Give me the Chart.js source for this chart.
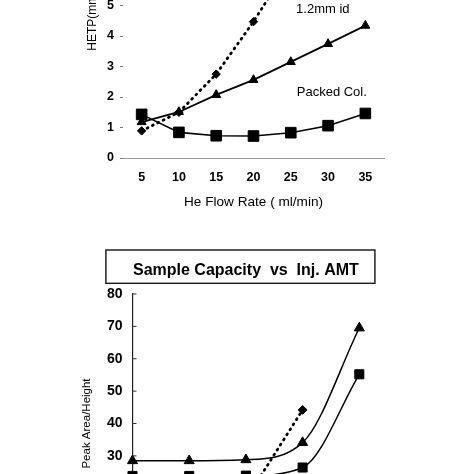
<!DOCTYPE html>
<html>
<head>
<meta charset="utf-8">
<script src="https://cdn.jsdelivr.net/npm/chart.js@4.4.1/dist/chart.umd.min.js"></script>
<style>
  html, body { margin: 0; padding: 0; background: #fff; overflow: hidden; width: 474px; height: 474px; }
  .wrap { position: absolute; left: 0; }
  #w1 { top: -130px; width: 474px; height: 344px; }
  #w2 { top: 240px; width: 474px; height: 353px; }
</style>
</head>
<body>
<div class="wrap" id="w1"><canvas id="c1" width="474" height="344"></canvas></div>
<div class="wrap" id="w2"><canvas id="c2" width="474" height="353"></canvas></div>
<script>
// ---------- Top chart data: HETP vs He flow rate ----------
const flowRates = ['5', '10', '15', '20', '25', '30', '35'];
const packedCol = [1.43, 0.84, 0.73, 0.72, 0.83, 1.06, 1.46];
const col12mm   = [1.18, 1.51, 2.07, 2.56, 3.15, 3.74, 4.34];
const colDotted = [0.89, 1.50, 2.75, 4.47, 6.40, null, null];
const topTitleX = 'He Flow Rate ( ml/min)';
const topTitleY = 'HETP(mm)';
const topNotes = [
  { text: '1.2mm id', x: 4.86, y: 4.86 },
  { text: 'Packed Col.', x: 5.1, y: 2.15 }
];

// ---------- Bottom chart data: sample capacity vs injection amount ----------
const injAmt     = ['0.2', '0.4', '0.6', '0.8', '1.0'];
const capSquare  = [23.8, 23.8, 23.9, 26.4, 55.2];
const capTri     = [28.5, 28.5, 28.8, 34.1, 69.5];
const capDiamond = [10, 12, 16.6, 44.2, null];
const bottomTitle = 'Sample Capacity  vs  Inj. AMT';
const bottomTitleY = 'Peak Area/Height';

const FONT = "'Liberation Sans', Arial, Helvetica, sans-serif";
const INK = '#000';

const notesPlugin = {
  id: 'notes',
  afterDatasetsDraw(chart, args, opts) {
    const ctx = chart.ctx;
    const xs = chart.scales.x, ys = chart.scales.y;
    ctx.save();
    ctx.fillStyle = INK;
    ctx.font = '13px ' + FONT;
    ctx.textAlign = 'center';
    ctx.textBaseline = 'middle';
    (opts.items || []).forEach(n => {
      ctx.fillText(n.text, xs.getPixelForValue(n.x), ys.getPixelForValue(n.y));
    });
    ctx.restore();
  }
};

const titleBoxPlugin = {
  id: 'titleBox',
  afterDraw(chart) {
    const tb = chart.titleBlock;
    if (!tb) return;
    const cy = tb.top + tb.options.padding.top + 9.6;
    const cx = (tb.left + tb.right) / 2;
    const ctx = chart.ctx;
    ctx.save();
    ctx.strokeStyle = '#222';
    ctx.lineWidth = 1.5;
    ctx.strokeRect(cx - 140, cy - 20.4, 269, 33.3);
    ctx.restore();
  }
};

// short tick marks drawn on the inner side of the y axis
const innerTicksPlugin = {
  id: 'innerTicks',
  afterDraw(chart) {
    const ys = chart.scales.y;
    const ctx = chart.ctx;
    const x0 = chart.chartArea.left;
    ctx.save();
    ctx.strokeStyle = '#333';
    ctx.lineWidth = 1;
    ys.ticks.forEach(t => {
      const y = ys.getPixelForValue(t.value);
      ctx.beginPath();
      ctx.moveTo(x0, y);
      ctx.lineTo(x0 + 4, y);
      ctx.stroke();
    });
    ctx.restore();
  }
};

const common = {
  responsive: false,
  maintainAspectRatio: false,
  animation: false,
  plugins: { legend: { display: false }, tooltip: { enabled: false } }
};

new Chart(document.getElementById('c1'), {
  type: 'line',
  data: {
    labels: flowRates,
    datasets: [
      { data: packedCol, borderColor: INK, backgroundColor: INK, borderWidth: 1.6,
        pointStyle: 'rect', pointRadius: 7.5, pointBorderWidth: 1, tension: 0 },
      { data: col12mm, borderColor: INK, backgroundColor: INK, borderWidth: 1.8,
        pointStyle: 'triangle', pointRadius: 5.2, pointBorderWidth: 1, tension: 0 },
      { data: colDotted, borderColor: INK, backgroundColor: INK, borderWidth: 2.8,
        borderDash: [1, 5], borderCapStyle: 'round',
        pointStyle: 'rectRot', pointRadius: 4.2, pointBorderWidth: 1, tension: 0 }
    ]
  },
  options: Object.assign({}, common, {
    layout: { padding: { left: 85, right: 90, top: 10, bottom: 0 } },
    plugins: Object.assign({}, common.plugins, { notes: { items: topNotes } }),
    scales: {
      x: {
        type: 'category', offset: true,
        grid: { display: true, drawOnChartArea: false, drawTicks: false },
        border: { display: true, color: '#999', width: 1 },
        ticks: { color: INK, font: { family: FONT, size: 12.5, weight: 'bold' }, padding: 12, maxRotation: 0 },
        title: { display: true, text: topTitleX, color: INK, font: { family: FONT, size: 13.6 }, padding: { top: 0, bottom: 4 } },
        afterFit: s => { s.height = 56; }
      },
      y: {
        min: 0, max: 9,
        grid: { display: true, drawOnChartArea: false, drawTicks: true, tickLength: 3, color: '#777' },
        border: { display: false },
        ticks: { stepSize: 1, color: INK, font: { family: FONT, size: 12.5, weight: 'bold' }, padding: 6 },
        title: { display: true, text: topTitleY, color: INK, font: { family: FONT, size: 12 }, padding: { top: 0, bottom: 0 } },
        afterFit: s => { s.width = 38; }
      }
    }
  }),
  plugins: [notesPlugin]
});

new Chart(document.getElementById('c2'), {
  type: 'line',
  data: {
    labels: injAmt,
    datasets: [
      { data: capSquare, borderColor: INK, backgroundColor: INK, borderWidth: 1.5,
        pointStyle: 'rect', pointRadius: 6.4, pointBorderWidth: 1, cubicInterpolationMode: 'monotone' },
      { data: capTri, borderColor: INK, backgroundColor: INK, borderWidth: 1.5,
        pointStyle: 'triangle', pointRadius: 5.8, pointBorderWidth: 1, cubicInterpolationMode: 'monotone' },
      { data: capDiamond, borderColor: INK, backgroundColor: INK, borderWidth: 2.8,
        borderDash: [1, 5], borderCapStyle: 'round',
        pointStyle: 'rectRot', pointRadius: 4.4, pointBorderWidth: 1, tension: 0 }
    ]
  },
  options: Object.assign({}, common, {
    layout: { padding: { left: 80, right: 114.7, top: 0, bottom: 0 } },
    plugins: Object.assign({}, common.plugins, {
      title: { display: true, text: bottomTitle, color: INK, fullSize: false,
               font: { family: FONT, size: 16, weight: 'bold' }, padding: { top: 20.8, bottom: 14 } }
    }),
    scales: {
      x: {
        type: 'category', offset: false,
        grid: { display: false },
        border: { display: true, color: '#222', width: 1.5 },
        ticks: { color: INK, font: { family: FONT, size: 14, weight: 'bold' }, padding: 8 },
        afterFit: s => { s.height = 40; }
      },
      y: {
        min: 0, max: 80,
        grid: { display: true, drawOnChartArea: false, drawTicks: false },
        border: { display: true, color: '#222', width: 1.2 },
        ticks: { stepSize: 10, color: INK, font: { family: FONT, size: 14, weight: 'bold' }, padding: 10 },
        title: { display: true, text: bottomTitleY, color: INK, font: { family: FONT, size: 11.5 }, padding: { top: 0, bottom: 0 } },
        afterFit: s => { s.width = 52.5; }
      }
    }
  }),
  plugins: [titleBoxPlugin, innerTicksPlugin]
});
</script>
</body>
</html>
